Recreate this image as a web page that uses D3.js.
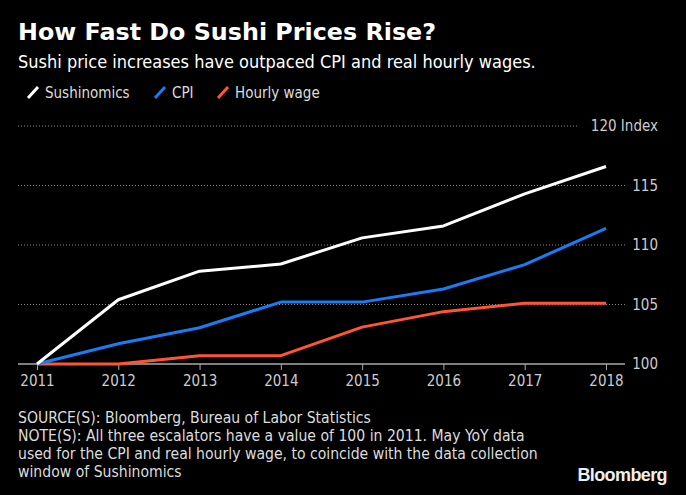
<!DOCTYPE html>
<html>
<head>
<meta charset="utf-8">
<script src="https://cdn.jsdelivr.net/npm/d3@7"></script>
<style>
html,body{margin:0;padding:0;background:#000;}
svg{display:block;}
</style>
</head>
<body>
<script>
const years = [2011, 2012, 2013, 2014, 2015, 2016, 2017, 2018];
const sushinomics = [100, 105.4, 107.8, 108.4, 110.6, 111.6, 114.3, 116.6];
const cpi = [100, 101.7, 103.05, 105.2, 105.2, 106.3, 108.35, 111.4];
const hourlyWage = [100, 100, 100.7, 100.7, 103.1, 104.4, 105.1, 105.1];
const yTicks = [100, 105, 110, 115, 120];
const seriesNames = ["Sushinomics", "CPI", "Hourly wage"];
const seriesColors = ["#ffffff", "#1a7cf5", "#ff5533"];
const seriesValues = [sushinomics, cpi, hourlyWage];

const W = 686, H = 495;
const svg = d3.select("body").append("svg").attr("width", W).attr("height", H);
svg.append("rect").attr("width", W).attr("height", H).attr("fill", "#000");

const font = "'DejaVu Sans Condensed', 'DejaVu Sans', sans-serif";

const x = d3.scaleLinear().domain([2011, 2018]).range([37, 606]);
const y = d3.scaleLinear().domain([100, 120]).range([364, 126]);

// Title
svg.append("text").attr("x", 18).attr("y", 40)
  .attr("font-family", "'DejaVu Sans', sans-serif").attr("font-weight", "bold")
  .attr("font-size", 22.5).attr("fill", "#fff")
  .attr("textLength", 418).attr("lengthAdjust", "spacingAndGlyphs")
  .text("How Fast Do Sushi Prices Rise?");
svg.append("text").attr("x", 18).attr("y", 68)
  .attr("font-family", font).attr("font-size", 18).attr("fill", "#fff")
  .text("Sushi price increases have outpaced CPI and real hourly wages.");

// Legend
const legendX = [27, 154, 217];
const legend = svg.append("g");
seriesNames.forEach((name, i) => {
  const lx = legendX[i];
  legend.append("line").attr("x1", lx + 1).attr("y1", 98).attr("x2", lx + 11).attr("y2", 87)
    .attr("stroke", seriesColors[i]).attr("stroke-width", 3);
  legend.append("text").attr("x", lx + 18).attr("y", 98)
    .attr("font-family", font).attr("font-size", 15).attr("fill", "#ddd")
    .text(name);
});

// Grid
yTicks.filter(t => t !== 100).forEach(t => {
  svg.append("line").attr("x1", 18).attr("x2", t === 120 ? 577 : 625)
    .attr("y1", y(t)).attr("y2", y(t))
    .attr("stroke", "#8a8a8a").attr("stroke-width", 1).attr("stroke-dasharray", "1,2");
});
// y labels
yTicks.forEach(t => {
  svg.append("text").attr("x", 658).attr("y", y(t) + 5).attr("text-anchor", "end")
    .attr("font-family", font).attr("font-size", 15).attr("fill", "#ccc")
    .text(t === 120 ? "120 Index" : t);
});

// x axis
const xAxis = d3.axisBottom(x).tickValues(years).tickFormat(d3.format("d")).tickSize(6).tickPadding(5);
const gx = svg.append("g").attr("transform", `translate(0,${y(100)})`).call(xAxis);
gx.select(".domain").remove();
gx.insert("line", ":first-child").attr("x1", 18).attr("x2", 625).attr("y1", 0).attr("y2", 0)
  .attr("stroke", "#aaa").attr("stroke-width", 1.5);
gx.selectAll(".tick line").attr("stroke", "#aaa");
gx.selectAll(".tick text").attr("font-family", font).attr("font-size", 15).attr("fill", "#ccc");

// Lines
const line = d3.line().x((d, i) => x(years[i])).y(d => y(d));
[2, 1, 0].forEach(i => {
  svg.append("path").datum(seriesValues[i]).attr("d", line)
    .attr("fill", "none").attr("stroke", seriesColors[i]).attr("stroke-width", 3)
    .attr("stroke-linejoin", "round");
});

// Footer
const footer = [
  "SOURCE(S): Bloomberg, Bureau of Labor Statistics",
  "NOTE(S): All three escalators have a value of 100 in 2011. May YoY data",
  "used for the CPI and real hourly wage, to coincide with the data collection",
  "window of Sushinomics"
];
footer.forEach((t, i) => {
  svg.append("text").attr("x", 18).attr("y", 423 + i * 18)
    .attr("font-family", font).attr("font-size", 15.6).attr("fill", "#ddd").text(t);
});
svg.append("text").attr("x", 667).attr("y", 481).attr("text-anchor", "end")
  .attr("font-family", "'Liberation Sans', Arial, sans-serif").attr("font-weight", "bold")
  .attr("font-size", 18).attr("letter-spacing", -0.6).attr("fill", "#eee").text("Bloomberg");
</script>
</body>
</html>
